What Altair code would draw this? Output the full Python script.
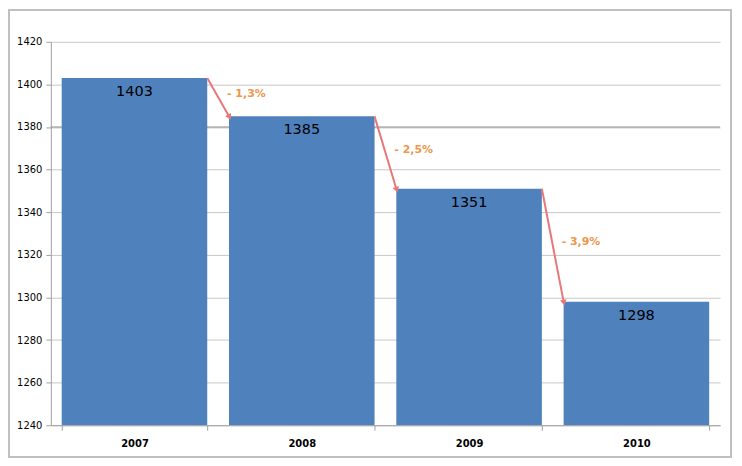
import math
import altair as alt
import pandas as pd

years = ["2007", "2008", "2009", "2010"]
values = [1403, 1385, 1351, 1298]
changes = ["- 1,3%", "- 2,5%", "- 3,9%"]
y_ticks = [1240, 1260, 1280, 1300, 1320, 1340, 1360, 1380, 1400, 1420]
dark_grid = [1380]

W, H = 672, 385
Y_MIN, Y_MAX = 1240, 1420
BAR_COLOR = "#4F81BD"
ARROW_COLOR = "#E8777A"
PCT_COLOR = "#F0954A"
FONT = "DejaVu Sans"

bars = pd.DataFrame({"year": years, "value": values})

# arrows go from the top right corner of one bar to the top left of the next
steps = pd.DataFrame({
    "year": years[:-1],
    "next": years[1:],
    "v0": values[:-1],
    "v1": values[1:],
    "label": changes,
})
steps["mid"] = (steps.v0 + steps.v1) / 2
px = H / (Y_MAX - Y_MIN)
gap = W / len(years) * 0.13
steps["angle"] = [
    math.degrees(math.atan2(gap, -(a - b) * px)) for a, b in zip(steps.v0, steps.v1)
]

x_scale = alt.Scale(domain=years, paddingInner=0.13, paddingOuter=0.065)
y_scale = alt.Scale(domain=[Y_MIN, Y_MAX], nice=False, zero=False)

x_axis = alt.Axis(
    title=None, labelAngle=0, labelFont=FONT, labelFontSize=10, labelFontWeight="bold",
    labelColor="#000", tickBand="extent", tickColor="#a0a0a0", tickSize=5,
    domainColor="#a0a0a0", grid=False, labelPadding=8,
)
y_axis = alt.Axis(
    title=None, values=y_ticks, format="d", labelFont=FONT, labelFontSize=10,
    labelColor="#000", tickColor="#a0a0a0", tickSize=5, domainColor="#a0a0a0",
    gridColor="#c8c8c8", labelPadding=4,
)

base = alt.Chart(bars)

dark = alt.Chart(pd.DataFrame({"v": dark_grid})).mark_rule(
    color="#8c8c8c", strokeWidth=1
).encode(y=alt.Y("v:Q", scale=y_scale, axis=y_axis))

bar = base.mark_bar(color=BAR_COLOR, clip=True).encode(
    x=alt.X("year:N", scale=x_scale, axis=x_axis),
    y=alt.Y("value:Q", scale=y_scale, axis=y_axis),
    y2=alt.datum(Y_MIN),
)

value_text = base.mark_text(
    font=FONT, fontSize=14.5, color="#000", baseline="top", dy=7
).encode(
    x=alt.X("year:N", scale=x_scale),
    y=alt.Y("value:Q", scale=y_scale),
    text="value:Q",
)

arrow_line = alt.Chart(steps).mark_rule(color=ARROW_COLOR, strokeWidth=2).encode(
    x=alt.X("year:N", scale=x_scale, bandPosition=1),
    x2=alt.X2("next:N", bandPosition=0),
    y=alt.Y("v0:Q", scale=y_scale),
    y2="v1:Q",
)

arrow_head = alt.Chart(steps).mark_point(
    shape="triangle", filled=True, color=ARROW_COLOR, size=45, opacity=1
).encode(
    x=alt.X("next:N", scale=x_scale, bandPosition=0),
    y=alt.Y("v1:Q", scale=y_scale),
    angle=alt.Angle("angle:Q", scale=None),
)

pct_text = alt.Chart(steps).mark_text(
    font=FONT, fontSize=11, fontWeight="bold", color=PCT_COLOR, align="left", dx=-2, dy=-3
).encode(
    x=alt.X("next:N", scale=x_scale, bandPosition=0),
    y=alt.Y("mid:Q", scale=y_scale),
    text="label:N",
)

frame = alt.Chart(bars).mark_rect(
    fill=None, stroke="#c0c0c0", strokeWidth=2
).encode(
    x=alt.value(-42), x2=alt.value(683), y=alt.value(-32), y2=alt.value(417)
)

chart = alt.layer(
    dark, bar, value_text, arrow_line, arrow_head, pct_text, frame
).properties(
    width=W, height=H,
    autosize=alt.AutoSizeParams(type="none"),
    padding={"left": 43, "top": 33, "right": 14, "bottom": 40},
    background="white",
).configure_view(stroke=None)

chart.save("out.html", embed_options={"renderer": "svg", "actions": False})
